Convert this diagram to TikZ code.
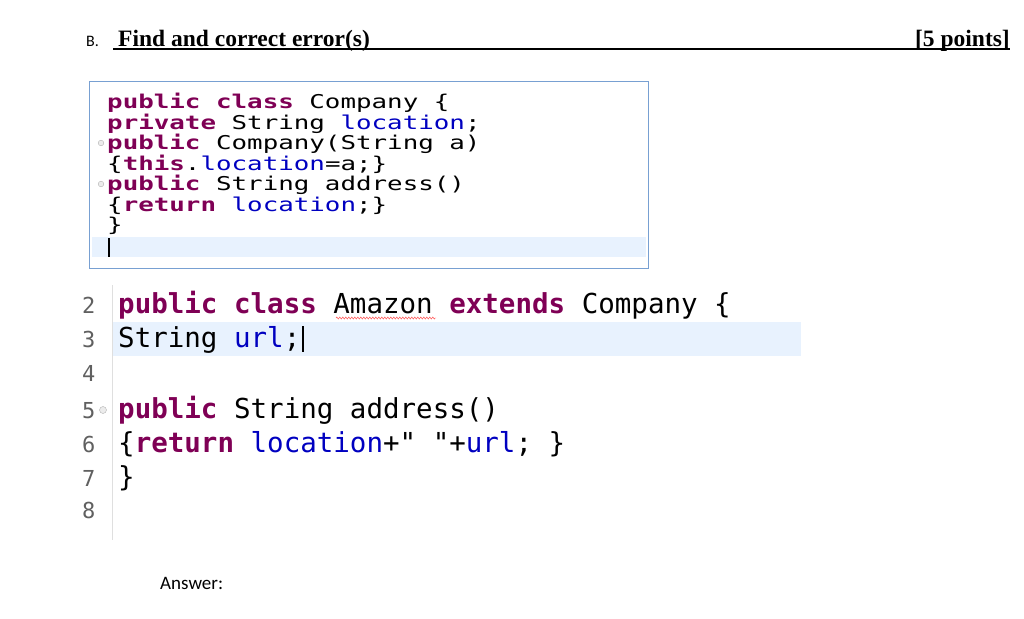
\documentclass[tikz,border=0pt]{standalone}
\usepackage{fontspec}
\usetikzlibrary{decorations.pathmorphing}
\newfontfamily\codeA[FakeStretch=1.36,Ligatures={}]{DejaVu Sans Mono}
\newfontfamily\codeB[Ligatures={}]{DejaVu Sans Mono}
\newfontfamily\hdr{Liberation Serif}
\newfontfamily\ans{Carlito}
\definecolor{kw}{HTML}{7F0055}
\definecolor{fld}{HTML}{0000C0}
\definecolor{hl}{HTML}{E8F2FE}
\definecolor{lno}{HTML}{606060}
\newcommand{\kw}[1]{\textcolor{kw}{\bfseries #1}}
\newcommand{\fl}[1]{\textcolor{fld}{#1}}
\tikzset{ca/.style={anchor=base west,inner sep=0,font=\codeA\fontsize{19}{19}\selectfont},
cb/.style={anchor=base west,inner sep=0,font=\codeB\fontsize{27.5}{27.5}\selectfont},
ln/.style={anchor=base west,inner sep=0,text=lno,font=\codeB\fontsize{22}{22}\selectfont},
mk/.style={circle,draw=gray!60,fill=gray!15,inner sep=0,minimum size=7pt}}
\begin{document}
\begin{tikzpicture}[x=1pt,y=-1pt]
\useasboundingbox (0,0) rectangle (1024,618);
\node[anchor=base west,inner sep=0,font=\ans\fontsize{16}{16}\selectfont] (b) at (86,46) {B.};
\node[anchor=base west,inner sep=0,font=\hdr\bfseries\fontsize{23.5}{23.5}\selectfont] (h) at (118,46) {Find and correct error(s)};
\node[anchor=base east,inner sep=0,font=\hdr\bfseries\fontsize{23.5}{23.5}\selectfont] (p) at (1010,46) {[5 points]};
\draw[line width=1.2pt] (113,49) -- (1010,49);
% top box
\fill[hl] (92,237) rectangle (646,257);
\draw[draw={rgb,255:red,120;green,160;blue,210},line width=1pt] (89,81) rectangle (648,268);
\node[ca] (t1) at (107,108) {\kw{public} \kw{class} Company \{};
\node[ca] (t2) at (107,129) {\kw{private} String \fl{location};};
\node[ca] (t3) at (107,149) {\kw{public} Company(String a)};
\node[ca] (t4) at (107,170) {\{\kw{this}.\fl{location}=a;\}};
\node[ca] (t5) at (107,190) {\kw{public} String address()};
\node[ca] (t6) at (107,211) {\{\kw{return} \fl{location};\}};
\node[ca] (t7) at (107,231) {\}};
\node[mk,scale=0.8] (m1) at (101,143) {};
\node[mk,scale=0.8] (m2) at (101,184) {};
\fill (108,238) rectangle (110,257);
% lower code
\fill[hl] (112,322) rectangle (801,356);
\draw[gray!25] (112,285) -- (112,540);
\node[ln] (l2) at (82,313) {2};
\node[ln] (l3) at (82,347) {3};
\node[ln] (l4) at (82,381) {4};
\node[ln] (l5) at (82,418) {5};
\node[ln] (l6) at (82,452) {6};
\node[ln] (l7) at (82,486) {7};
\node[ln] (l8) at (82,518) {8};
\node[mk] (m3) at (103,410) {};
\node[cb] (c2) at (118,313) {\kw{public} \kw{class} Amazon \kw{extends} Company \{};
\node[cb] (c3) at (118,347) {String \fl{url};};
\node[cb] (c5) at (118,418) {\kw{public} String address()};
\node[cb] (c6) at (118,452) {\{\kw{return} \fl{location}+" "+\fl{url}; \}};
\node[cb] (c7) at (118,486) {\}};
\draw[red!80,decorate,decoration={zigzag,amplitude=1pt,segment length=3pt}] (336,318) -- (436,318);
\fill (302,326) rectangle (304,352);
\node[anchor=base west,inner sep=0,font=\ans\fontsize{19}{19}\selectfont] (a) at (160,589) {Answer:};
\end{tikzpicture}
\end{document}
